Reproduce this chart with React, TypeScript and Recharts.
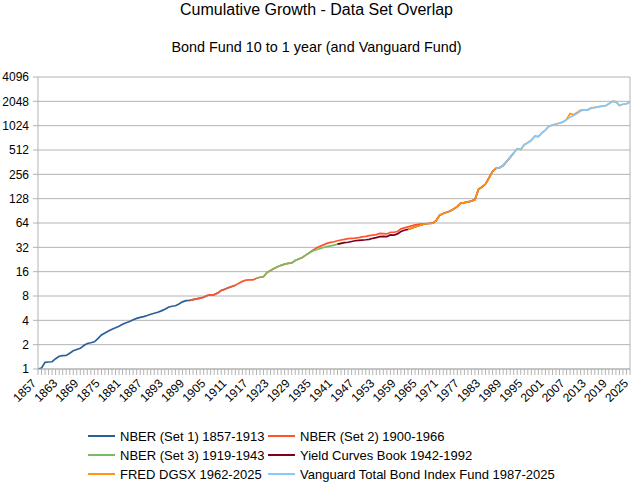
import React from 'react';
import { LineChart, Line, XAxis, YAxis, CartesianGrid, Legend, ReferenceLine } from 'recharts';

const FIRST_YEAR = 1857;
const LAST_YEAR = 2025;
const years: string[] = [];
for (let y = FIRST_YEAR; y <= LAST_YEAR; y++) years.push(String(y));

const yTicks = [1, 2, 4, 8, 16, 32, 64, 128, 256, 512, 1024, 2048, 4096];

// NBER (Set 1) 1857-1913
const nber1 = [
  1.0, 1.03, 1.21, 1.22, 1.23, 1.34, 1.44, 1.46, 1.47, 1.57,
  1.68, 1.74, 1.8, 1.95,
  2.07, 2.11, 2.17, 2.38, 2.64,
  2.79, 2.95, 3.1, 3.23, 3.39,
  3.58, 3.73, 3.86, 4.06, 4.23,
  4.35, 4.44, 4.59, 4.76, 4.89,
  5.03, 5.24, 5.5, 5.82, 5.98,
  6.06, 6.36, 6.77, 7.01, 7.06,
  7.21, 7.36, 7.52, 7.73, 8.11,
  8.28, 8.34, 8.69, 9.38, 9.71,
  10.13, 10.48, 10.85,
];

// NBER (Set 2) 1900-1966
const nber2 = [
  7.06, 7.21, 7.36, 7.52, 7.73, 8.11,
  8.28, 8.34, 8.69, 9.38, 9.71,
  10.13, 10.48, 10.85, 11.47, 12.13,
  12.55, 12.64, 12.64, 13.27, 13.64,
  13.83, 15.67, 16.56, 17.51, 18.38,
  19.16, 19.84, 20.25, 20.53, 22.01,
  22.94, 23.92, 25.63, 27.47, 29.4,
  31.3, 32.9, 34.3, 35.8, 36.8,
  37.5, 38.6, 39.4, 40.2, 41.1,
  41.4, 41.6, 42.2, 43.1, 43.7,
  44.6, 45.3, 45.9, 47.5, 47.2,
  46.9, 49.2, 49.2, 50.2, 54.2,
  55.7, 57.3, 58.9, 60.6, 61.8,
  62.7,
];

// NBER (Set 3) 1919-1943
const nber3 = [
  13.27, 13.64, 13.83, 15.67, 16.56, 17.51,
  18.38, 19.16, 19.84, 20.25, 20.53,
  22.01, 22.94, 23.92, 25.63, 27.47,
  28.8, 29.9, 30.9, 31.8, 32.7,
  33.4, 34.1, 35.0, 35.8,
];

// Yield Curves Book 1942-1992
const yieldBook = [
  35.0, 35.8, 36.5, 37.0,
  37.8, 38.6, 39.1, 39.4, 39.7,
  40.2, 41.4, 42.2, 43.4, 43.7,
  43.4, 45.6, 45.3, 46.9, 50.2,
  52.0, 53.4, 55.0, 57.3, 59.3,
  61.0, 62.7, 63.1, 63.6, 68.6,
  79.9, 83.9, 86.8, 89.9, 95.7,
  102.5, 113.0, 114.5, 117.0, 119.4,
  124.5, 166.6, 178.5, 194.0, 232.3,
  278.2, 304.4, 308.7, 328.6, 369.6,
  416, 471,
];

// FRED DGSX 1962-2025
const fred = [
  53.4, 55.3, 57.3, 59.3,
  61.0, 62.7, 63.1, 63.6, 68.6,
  79.9, 83.9, 86.8, 89.9, 95.7,
  102.5, 113.0, 114.5, 117.0, 119.4,
  124.5, 166.6, 178.5, 194.0, 232.3,
  278.2, 304.4, 308.7, 328.6, 369.6,
  416, 471, 530, 519, 596,
  630, 676, 760, 750, 832,
  904, 1010, 1045, 1075, 1100,
  1140, 1225, 1448, 1399, 1489,
  1596, 1610, 1620, 1700, 1720,
  1750, 1790, 1800, 1915, 2048,
  2034, 1820, 1885, 1911, 2006,
];

// Vanguard Total Bond Index Fund 1987-2025
const vanguard = [
  304.4, 308.7, 328.6, 369.6,
  416, 471, 530, 519, 596,
  630, 676, 760, 750, 832,
  904, 1010, 1045, 1075, 1097,
  1136, 1210, 1305, 1370, 1448,
  1552, 1607, 1596, 1687, 1710,
  1746, 1783, 1795, 1911, 2048,
  2034, 1820, 1885, 1911, 2006,
];

const seriesDefs = [
  { key: 'nber1', name: 'NBER (Set 1) 1857-1913', color: '#2a6099', start: 1857, values: nber1 },
  { key: 'nber2', name: 'NBER (Set 2) 1900-1966', color: '#ff5429', start: 1900, values: nber2 },
  { key: 'nber3', name: 'NBER (Set 3) 1919-1943', color: '#77bc65', start: 1919, values: nber3 },
  { key: 'yieldBook', name: 'Yield Curves Book 1942-1992', color: '#7e0021', start: 1942, values: yieldBook },
  { key: 'fred', name: 'FRED DGSX 1962-2025', color: '#ff950e', start: 1962, values: fred },
  { key: 'vanguard', name: 'Vanguard Total Bond Index Fund 1987-2025', color: '#83caff', start: 1987, values: vanguard },
];

const data = years.map((year) => {
  const row: Record<string, string | number | null> = { year };
  const yr = Number(year);
  for (const s of seriesDefs) {
    const i = yr - s.start;
    row[s.key] = i >= 0 && i < s.values.length ? s.values[i] : null;
  }
  return row;
});

const FONT = '"Liberation Sans", Arial, sans-serif';
const GRID = '#b3b3b3';

const XTick = (props: any) => {
  const { x, y, payload } = props;
  const yr = Number(payload.value);
  if ((yr - FIRST_YEAR) % 6 !== 0) return <g />;
  const ax = x - 4;
  const ay = y + 4;
  return (
    <text
      x={ax}
      y={ay}
      transform={`rotate(-45 ${ax} ${ay})`}
      textAnchor="end"
      dy="0.35em"
      fontSize={12}
      fill="#000"
      fontFamily={FONT}
    >
      {payload.value}
    </text>
  );
};

const order = seriesDefs.map((s) => s.name);

const renderLegend = (props: any) => {
  const payload = [...(props.payload || [])].sort(
    (a: any, b: any) => order.indexOf(a.value) - order.indexOf(b.value)
  );
  return (
    <div style={{ position: 'relative', width: 633, height: 0 }}>
      {payload.map((entry: any, i: number) => {
        const col = i % 2;
        const row = Math.floor(i / 2);
        return (
          <div
            key={entry.value}
            style={{
              position: 'absolute',
              left: col === 0 ? 88 : 268,
              top: row * 19,
              height: 19,
              display: 'flex',
              alignItems: 'center',
              whiteSpace: 'nowrap',
              fontFamily: FONT,
              fontSize: 13,
              color: '#000',
            }}
          >
            <span style={{ display: 'inline-block', width: 27, height: 2, background: entry.color, marginRight: 5 }} />
            <span>{entry.value}</span>
          </div>
        );
      })}
    </div>
  );
};

export default function App() {
  return (
    <div style={{ position: 'absolute', left: 0, top: 0, width: 633, height: 484, background: '#fff', fontFamily: FONT }}>
      <div style={{ position: 'absolute', top: 2, left: 0, width: 633, textAlign: 'center', fontSize: 16, lineHeight: '16px', color: '#000', whiteSpace: 'nowrap' }}>
        Cumulative Growth - Data Set Overlap
      </div>
      <div style={{ position: 'absolute', top: 38.5, left: 0, width: 633, textAlign: 'center', fontSize: 14.4, lineHeight: '16px', color: '#000', whiteSpace: 'nowrap' }}>
        Bond Fund 10 to 1 year (and Vanguard Fund)
      </div>
      <LineChart width={633} height={484} data={data} margin={{ top: 77, right: 3, left: 0, bottom: 0 }}>
        <CartesianGrid vertical={false} stroke={GRID} strokeDasharray="" />
        <XAxis
          dataKey="year"
          interval={0}
          height={115}
          tick={<XTick />}
          tickSize={6}
          tickMargin={2}
          axisLine={{ stroke: GRID }}
          tickLine={{ stroke: GRID }}
          padding={{ left: 0, right: 0 }}
        />
        <YAxis
          type="number"
          scale="log"
          domain={[1, 4096]}
          ticks={yTicks}
          interval={0}
          allowDataOverflow
          width={38}
          tickSize={5}
          tickMargin={4}
          axisLine={{ stroke: GRID }}
          tickLine={{ stroke: GRID }}
          tick={{ fontSize: 12, fill: '#000', fontFamily: FONT }}
        />
        <ReferenceLine x="2025" stroke={GRID} ifOverflow="visible" />
        <Legend
          content={renderLegend}
          verticalAlign="bottom"
          wrapperStyle={{ position: 'absolute', top: 426.5, left: 0, width: 633, height: 0 }}
        />
        {seriesDefs.map((s) => (
          <Line
            key={s.key}
            type="linear"
            dataKey={s.key}
            name={s.name}
            stroke={s.color}
            strokeWidth={1.7}
            dot={false}
            activeDot={false}
            connectNulls={false}
            isAnimationActive={false}
          />
        ))}
      </LineChart>
    </div>
  );
}
